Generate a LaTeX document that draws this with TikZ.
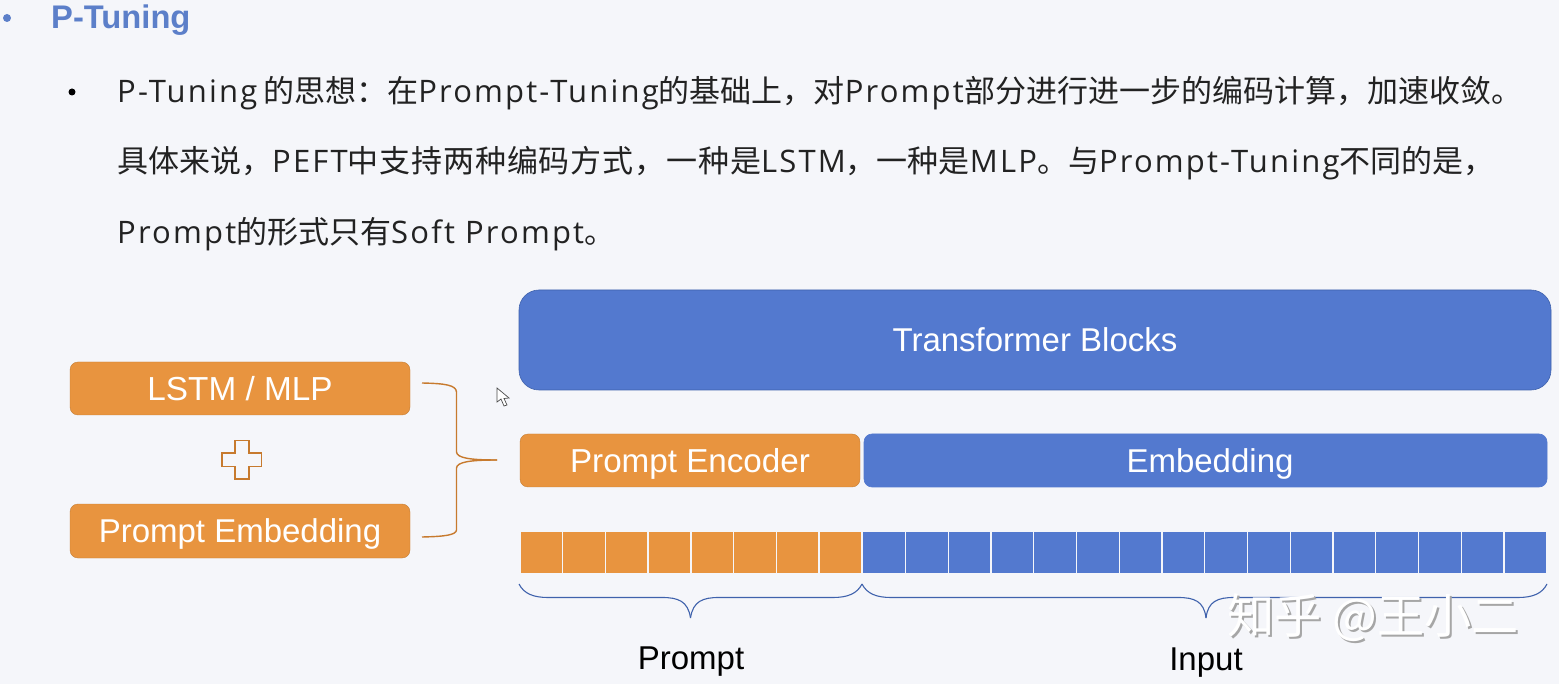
\documentclass[tikz,border=0pt]{standalone}
\usepackage{fontspec}
\setmainfont{Liberation Sans}
\newfontfamily\cjk{Noto Sans CJK SC}
\newfontfamily\cjkw[LetterSpace=2.8]{Noto Sans CJK SC}
\newfontfamily\latinbody[LetterSpace=7]{Open Sans}
\usetikzlibrary{calc}
\definecolor{bgc}{HTML}{F5F6FA}
\definecolor{org}{HTML}{E8943F}
\definecolor{orgline}{HTML}{C77A2E}
\definecolor{blu}{HTML}{5379CF}
\definecolor{bluline}{HTML}{3F62AC}
\definecolor{headc}{HTML}{5C7FC9}
\definecolor{txt}{HTML}{222222}
\newcommand{\LT}[1]{{\latinbody #1}}
\tikzset{
  bodyline/.style={anchor=west,inner sep=0pt,text=txt,font=\fontsize{31}{31}\selectfont\cjk},
  orgbox/.style={fill=org,draw=org!85!black,line width=0.4pt,rounded corners=8pt},
  blubox/.style={fill=blu,draw=bluline,line width=0.6pt,rounded corners=8pt},
  orgcell/.style={fill=org,draw=none},
  blucell/.style={fill=blu,draw=none},
  blubrace/.style={draw=bluline,line width=1.1pt},
  orgbrace/.style={draw=orgline,line width=1.4pt},
  caption/.style={inner sep=0pt,text=black,font=\fontsize{33}{33}\selectfont}
}
\begin{document}
\begin{tikzpicture}[x=1pt,y=-1pt]
\path[use as bounding box,fill=bgc] (0,0) rectangle (1559,684);
% heading
\node[circle,fill=headc,inner sep=0pt,minimum size=8pt] (hb) at (7,18) {};
\node[anchor=west,inner sep=0pt,text=headc,font=\fontsize{32.7}{32.7}\selectfont\bfseries] (head) at (51,20) {P-Tuning};
\node[circle,fill=black,inner sep=0pt,minimum size=7pt] (bb) at (72,92) {};
\node[bodyline] (l1) at (117,93) {\LT{P-Tuning}\hspace{6pt}的思想：在\LT{Prompt-Tuning}的基础上，对\LT{Prompt}\hspace{1pt}部分进行进一步的编码计算，加速收敛。};
\node[bodyline] (l2) at (117,163) {具体来说，\LT{PEFT}{\cjkw 中支持两种编码方式，一种是}\LT{LSTM}，一种是\LT{MLP}。与\LT{Prompt-Tuning}不同的是，};
\node[bodyline] (l3) at (117,234) {\LT{Prompt}的形式只有\LT{Soft Prompt}。};
% blocks
\draw[blubox,rounded corners=20pt,draw=bluline] (519,290) rectangle (1551,390);
\node[text=white,font=\fontsize{33}{33}\selectfont,inner sep=0pt] (tb) at (1035,340) {Transformer Blocks};
\draw[orgbox] (520,434) rectangle (860,487);
\node[text=white,font=\fontsize{33.2}{33.2}\selectfont,inner sep=0pt] (pe) at (690,463.5) {Prompt Encoder};
\draw[blubox,draw=blu] (864,434) rectangle (1547,487);
\node[text=white,font=\fontsize{33}{33}\selectfont,inner sep=0pt] (em) at (1210,463.5) {Embedding};
\draw[orgbox] (70,362) rectangle (410,415);
\node[text=white,font=\fontsize{33.3}{33.3}\selectfont,inner sep=0pt] (ls) at (240,388.5) {LSTM / MLP};
\draw[orgbox] (70,504) rectangle (410,558);
\node[text=white,font=\fontsize{33}{33}\selectfont,inner sep=0pt] (pm) at (240,534) {Prompt Embedding};
% plus
\draw[orgline,line width=1.2pt,fill=bgc] (235,440.5) -- (249,440.5) -- (249,453) -- (261.5,453) -- (261.5,466.5) -- (249,466.5) -- (249,479) -- (235,479) -- (235,466.5) -- (222,466.5) -- (222,453) -- (235,453) -- cycle;
% orange brace
\coordinate (oa) at (422,383);
\coordinate (ob) at (422,537);
\coordinate (oc) at (497,460);
\draw[orgbrace] (oa) .. controls (445,383.5) and (456,385) .. (456.5,392) -- (456.5,452) .. controls (457,458) and (470,460) .. (oc);
\draw[orgbrace] (ob) .. controls (445,536.5) and (456,535) .. (456.5,530) -- (456.5,468) .. controls (457,462) and (470,460) .. (oc);
% cells
\foreach \i in {0,...,7}{
  \fill[orgcell] ({520+\i*42.72+0.7},532) rectangle ({520+(\i+1)*42.72-0.7},572.5);
}
\foreach \i in {0,...,15}{
  \fill[blucell] ({862.7+\i*42.75+0.7},532) rectangle ({862.7+(\i+1)*42.75-0.7},572.5);
}
% blue braces
\coordinate (pa) at (519,584);
\coordinate (pb) at (862,584);
\coordinate (pc) at (690.5,618);
\coordinate (ia) at (862,584);
\coordinate (ib) at (1547,584);
\coordinate (ic) at (1206,618);
\draw[blubrace] (pa) .. controls (524,594) and (534,597.5) .. (548,597.5) -- (662,597.5) .. controls (678,597.5) and (688,601) .. (pc);
\draw[blubrace] (pb) .. controls (857,594) and (847,597.5) .. (833,597.5) -- (719,597.5) .. controls (703,597.5) and (693,601) .. (pc);
\draw[blubrace] (ia) .. controls (867,594) and (877,597.5) .. (891,597.5) -- (1178,597.5) .. controls (1194,597.5) and (1204,601) .. (ic);
\draw[blubrace] (ib) .. controls (1542,594) and (1532,597.5) .. (1518,597.5) -- (1234,597.5) .. controls (1218,597.5) and (1208,601) .. (ic);
% captions
\node[caption] (cp) at (691,662) {Prompt};
\node[caption] (ci) at (1206,663) {Input};
% cursor
\draw[black!70,line width=0.7pt,fill=white] (497,388) -- (497,402) -- (501,399) -- (504,406) -- (507,405) -- (504,398.5) -- (509,398) -- cycle;
% watermark
\node[inner sep=0pt,text=black!35,font=\fontsize{47.3}{47.3}\selectfont\cjk] (wm2) at (1375,619.5) {知乎 @王小二};
\node[inner sep=0pt,text=white,font=\fontsize{47.3}{47.3}\selectfont\cjk] (wm) at (1373,618) {知乎 @王小二};
\end{tikzpicture}
\end{document}
